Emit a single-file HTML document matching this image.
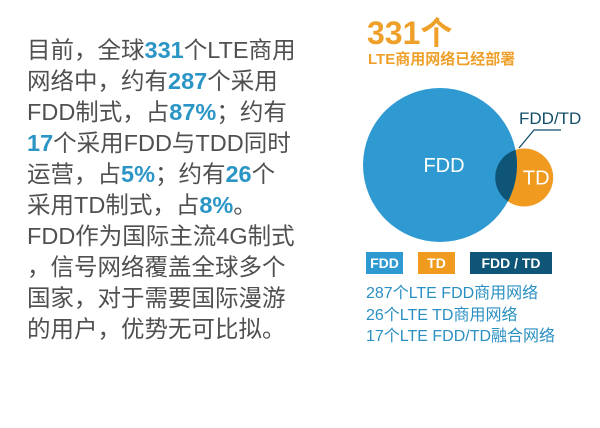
<!DOCTYPE html>
<html><head><meta charset="utf-8"><style>
html,body{margin:0;padding:0;background:#fff;}
body{width:600px;height:428px;position:relative;overflow:hidden;font-family:"Liberation Sans","Noto Sans CJK SC",sans-serif;}
#para{position:absolute;left:27px;top:35px;width:280px;font-size:23.5px;line-height:31px;color:#505050;}
#para b{color:#2b95c6;}
.r{position:absolute;}
</style></head><body>
<div id="para">目前，全球<b>331</b>个LTE商用<br>网络中，约有<b>287</b>个采用<br>FDD制式，占<b>87%</b>；约有<br><b>17</b>个采用FDD与TDD同时<br>运营，占<b>5%</b>；约有<b>26</b>个<br>采用TD制式，占<b>8%</b>。<br>FDD作为国际主流4G制式<br>，信号网络覆盖全球多个<br>国家，对于需要国际漫游<br>的用户，优势无可比拟。</div>
<div class="r" style="left:367px;top:14px;font-size:32px;font-weight:bold;color:#eea02a;line-height:38px;">331个</div>
<div class="r" style="left:368px;top:51px;font-size:15px;font-weight:bold;color:#eea02a;line-height:18px;">LTE商用网络已经部署</div>
<svg class="r" style="left:0;top:0" width="600" height="428">
<defs><clipPath id="tdclip"><circle id="tdc" cx="0" cy="0" r="0"/></clipPath></defs>
<g id="venn"></g>
</svg>
<div class="r" style="left:366px;top:252px;width:37px;height:22px;background:#2e9ad1;color:#fff;font-size:14px;font-weight:bold;text-align:center;line-height:22px;">FDD</div>
<div class="r" style="left:418px;top:252px;width:37px;height:22px;background:#f09a1f;color:#fff;font-size:14px;font-weight:bold;text-align:center;line-height:22px;">TD</div>
<div class="r" style="left:470px;top:252px;width:82px;height:22px;background:#0e5577;color:#fff;font-size:14px;font-weight:bold;text-align:center;line-height:22px;">FDD / TD</div>
<div class="r" style="left:366px;top:283px;font-size:16px;line-height:21.5px;color:#2a8fc2;">287个LTE FDD商用网络<br>26个LTE TD商用网络<br>17个LTE FDD/TD融合网络</div>
<script>
const sets=["FDD","TD"];
const totals=[304,43];
const overlap=17;
const ns="http://www.w3.org/2000/svg";
const R0=77, V0=304;
function rScale(v){return R0*Math.sqrt(v/V0);}
const g=document.getElementById('venn');
const cx1=440,cy1=165,r1=rScale(totals[0]);
const r2=rScale(totals[1]);
const cx2=cx1+r1+r2-2*r2*(overlap/totals[1])*0.95,cy2=177.5;
function mk(t,a){const e=document.createElementNS(ns,t);for(const k in a)e.setAttribute(k,a[k]);g.appendChild(e);return e;}
const c2=mk('circle',{cx:cx2,cy:cy2,r:r2,fill:'#f09a1f'});


const c1=mk('circle',{cx:cx1,cy:cy1,r:r1,fill:'#2e9ad1'});


const tc=document.getElementById('tdc');tc.setAttribute('cx',cx2);tc.setAttribute('cy',cy2);tc.setAttribute('r',r2);
const ov=mk('circle',{cx:cx1,cy:cy1,r:r1,fill:'#0e5577','clip-path':'url(#tdclip)'});


const t1=mk('text',{x:cx1+4,y:cy1+7,fill:'#fff','font-size':20,'text-anchor':'middle','font-family':'Liberation Sans'});t1.textContent=sets[0];


const t2=mk('text',{x:cx2+12,y:cy2+7,fill:'#fff','font-size':20,'text-anchor':'middle','font-family':'Liberation Sans'});t2.textContent=sets[1];


const ln=mk('polyline',{points:'519,148 534,130 561,130',fill:'none',stroke:'#134e6a','stroke-width':1.3});


const t3=mk('text',{x:519,y:124,fill:'#134e6a','font-size':17,'font-family':'Liberation Sans'});t3.textContent='FDD/TD';


</script>
</body></html>
